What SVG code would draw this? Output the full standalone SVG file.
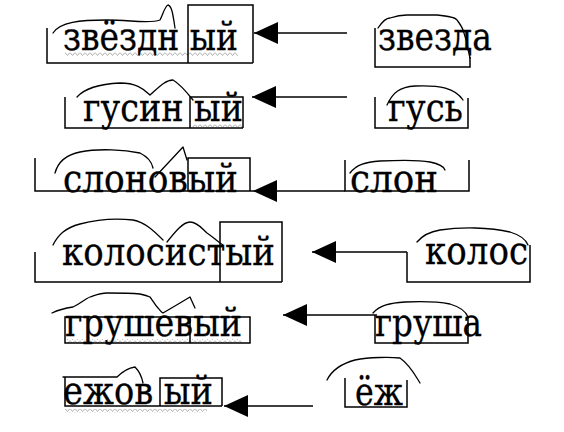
<svg xmlns="http://www.w3.org/2000/svg" width="564" height="432" viewBox="0 0 564 432">
<style>
text{font-family:'DejaVu Serif','Liberation Serif',serif;font-size:39px;fill:#000;stroke:#000;stroke-width:0.3}
.ln{fill:none;stroke:#000;stroke-width:1.5}
.arc{fill:none;stroke:#000;stroke-width:1.3;stroke-linejoin:round;stroke-linecap:round}
.cn{fill:none;stroke:#000;stroke-width:1.5}
</style>
<defs>
<marker id="ah" markerUnits="userSpaceOnUse" markerWidth="26" markerHeight="24" refX="24" refY="11" orient="auto">
<path d="M0,0 L24,11 L0,22 Z" fill="#000"/>
</marker>
<pattern id="wave" patternUnits="userSpaceOnUse" width="5" height="4">
<path d="M0,0.5 L2.5,3.5 L5,0.5" fill="none" stroke="#9a9a9a" stroke-width="0.8"/>
</pattern>
</defs>
<rect width="564" height="432" fill="#fff"/>

<g id="n-zvezdny">
<rect x="65" y="52" width="173" height="4" fill="url(#wave)"/>
<path class="ln" d="M47,28 V63 H253"/>
<path class="ln" d="M188,63 V5 H253 V63"/>
<path class="arc" d="M53,33 C60,22 80,20 107,20 C130,20 150,24 160,20 C163,14 165,6 168,5 C172,6 173,15 175,28"/>
<text x="63" y="50" textLength="175" lengthAdjust="spacingAndGlyphs">звёздн ый</text>
</g>
<g id="n-zvezda">
<path class="ln" d="M375,28 V67 H470 V57"/>
<path class="arc" d="M378,28 C382,22 386,18 390,18 C396,16 400,15 407,15 C420,15 430,15 437,15 C448,16 455,17 457,20 C460,24 462,27 463,30 C465,36 466,40 467,43 C468,50 469,54 470,58"/>
<text x="378" y="50" textLength="114" lengthAdjust="spacingAndGlyphs">звезда</text>
</g>

<g id="n-gusiny">
<rect x="192" y="124" width="50" height="3" fill="url(#wave)"/>
<path class="ln" d="M65,97 V128 H243"/>
<path class="ln" d="M190,128 V97 H243 V128"/>
<path class="arc" d="M77,97 C85,88 100,84 120,83 C135,83 143,88 150,95 C158,88 165,80 173,80 C180,84 185,90 193,100"/>
<text x="83" y="121" textLength="160" lengthAdjust="spacingAndGlyphs">гусин ый</text>
</g>
<g id="n-gus">
<path class="ln" d="M375,97 V128 H468 V98"/>
<path class="arc" d="M387,105 C393,92 400,87 415,86 C440,85 455,88 463,100"/>
<text x="388" y="121" textLength="75" lengthAdjust="spacingAndGlyphs">гусь</text>
</g>

<g id="n-slonovy">
<path class="ln" d="M35,158 V191 H253"/>
<path class="ln" d="M188,191 V158 H250 V191"/>
<path class="arc" d="M55,173 C58,162 65,155 80,152 C100,148 125,150 140,153 C148,157 152,163 153,168"/>
<path class="arc" d="M155,177 L183,147 L187,160"/>
<text x="63" y="192" textLength="175" lengthAdjust="spacingAndGlyphs">слоновый</text>
</g>
<g id="n-slon">
<path class="ln" d="M345,160 V191 H469 V160"/>
<path class="arc" d="M350,173 C356,165 365,162 380,161 C400,160 420,160 430,162 C440,164 444,167 445,170"/>
<text x="350" y="192" textLength="88" lengthAdjust="spacingAndGlyphs">слон</text>
</g>

<g id="n-kolosisty">
<path class="ln" d="M35,252 V282 H282"/>
<path class="ln" d="M220,282 V222 H282 V282"/>
<path class="arc" d="M53,245 C58,235 65,228 80,224 C95,220 115,218 133,220 C145,222 155,232 163,240"/>
<path class="arc" d="M167,242 C175,232 183,222 190,222 C198,222 203,230 207,233 C213,237 218,242 223,245"/>
<text x="62" y="265" textLength="213" lengthAdjust="spacingAndGlyphs">колосистый</text>
</g>
<g id="n-kolos">
<path class="ln" d="M407,252 V282 H530 V245"/>
<path class="arc" d="M417,242 C422,236 428,232 440,230 C460,227 490,227 510,232 C520,235 526,240 528,245"/>
<text x="425" y="264" textLength="103" lengthAdjust="spacingAndGlyphs">колос</text>
</g>

<g id="n-grushevy">
<rect x="67" y="339" width="175" height="4" fill="url(#wave)"/>
<path class="ln" d="M65,317 H250 V343 H65 Z M190,317 V343"/>
<path class="arc" d="M52,313 C60,309 66,308 73,307 C80,304 85,299 90,297 C96,295 100,293 107,293 C120,293 130,293 140,294 C145,295 148,296 150,297 C153,301 155,305 158,308 C160,310 161,312 163,313 L180,303 L190,297 L195,308"/>
<text x="65" y="336" textLength="177" lengthAdjust="spacingAndGlyphs">грушевый</text>
</g>
<g id="n-grusha">
<path class="ln" d="M375,315 V343 H468 V316"/>
<path class="arc" d="M373,313 C380,305 390,303 405,302 C425,301 440,302 450,304 C460,307 466,312 468,317"/>
<text x="375" y="336" textLength="107" lengthAdjust="spacingAndGlyphs">груша</text>
</g>

<g id="n-ezhovy">
<rect x="65" y="409" width="142" height="4" fill="url(#wave)"/>
<path class="ln" d="M65,377 V406 H222"/>
<path class="ln" d="M160,406 V378 H222 V406"/>
<path class="arc" d="M63,377 H117 C122,372 128,368 135,367 C140,372 142,378 143,383"/>
<text x="63" y="404" textLength="150" lengthAdjust="spacingAndGlyphs">ежов ый</text>
</g>
<g id="n-ezh">
<path class="ln" d="M345,378 V407 H407 V380"/>
<path class="arc" d="M327,380 C332,370 340,364 355,360 C370,357 390,357 400,358 C410,365 415,375 420,383"/>
<text x="355" y="405" textLength="48" lengthAdjust="spacingAndGlyphs">ёж</text>
</g>

<g id="connectors">
<line class="cn" x1="347" y1="33" x2="254" y2="33" marker-end="url(#ah)"/>
<line class="cn" x1="347" y1="97" x2="252" y2="97" marker-end="url(#ah)"/>
<line class="cn" x1="345" y1="191" x2="253" y2="191" marker-end="url(#ah)"/>
<line class="cn" x1="407" y1="252" x2="312" y2="252" marker-end="url(#ah)"/>
<line class="cn" x1="377" y1="315" x2="283" y2="315" marker-end="url(#ah)"/>
<line class="cn" x1="313" y1="406" x2="224" y2="406" marker-end="url(#ah)"/>
</g>
</svg>
